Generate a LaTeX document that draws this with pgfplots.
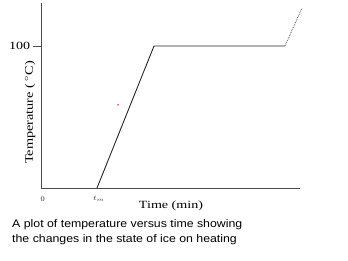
\documentclass[border=0pt]{standalone}
\usepackage{pgfplots}
\pgfplotsset{compat=1.18}
\usepackage{fontspec}
\setmainfont{Liberation Serif}
\newfontfamily\capfont{Liberation Sans}
\begin{document}
\begin{tikzpicture}
\path[use as bounding box] (0,0) rectangle (348pt,261pt);
\begin{axis}[
  at={(41pt,73pt)}, anchor=south west,
  x=1pt, y=1.42pt,
  xmin=0, xmax=259, ymin=0, ymax=130.3,
  axis lines=left,
  axis line style={-, black!70, line width=0.9pt},
  xtick={0,56}, xticklabels={0,$t_m$},
  xticklabel style={font=\fontsize{7}{8}\selectfont, text=black!80, xscale=1.2, yshift=3pt, xshift=1.5pt},
  x tick style={draw=none},
  ytick={100},
  yticklabel style={font=\fontsize{11}{12}\selectfont, xscale=1.28, inner sep=2pt},
  y tick style={black!70, line width=0.8pt},
  tick align=outside, major tick length=8pt,
  /pgf/number format/assume math mode=true,
  clip=false,
]
% heating curve: warming of ice/water, boiling plateau
\addplot[black!85, line width=0.9pt] coordinates {(56,0) (113,100) (244,100)};
% steam heating beyond boiling
\addplot[black!55, dash pattern=on 0.9pt off 0.9pt, line width=0.9pt] coordinates {(244,100) (261,126.8)};
\addplot[only marks, mark=*, mark size=0.5pt, red] coordinates {(77,58.5)};
\node[font=\fontsize{11}{12}\selectfont, xscale=1.28, anchor=base, inner sep=0pt] at (axis cs:130,0) [yshift=-21pt] {Time (min)};
\node[font=\fontsize{11.5}{12}\selectfont, rotate=90, xscale=1.24, anchor=base, inner sep=0pt] at (axis cs:-8,53.2) {Temperature (\,$^{\circ}$C)};
\end{axis}
\node[anchor=base west, font=\capfont\fontsize{11}{15}\selectfont, xscale=1.12, inner sep=0pt] at (12pt,33pt)
  {A plot of temperature versus time showing};
\node[anchor=base west, font=\capfont\fontsize{11}{15}\selectfont, xscale=1.12, inner sep=0pt] at (12pt,18pt)
  {the changes in the state of ice on heating};
\end{tikzpicture}
\end{document}
